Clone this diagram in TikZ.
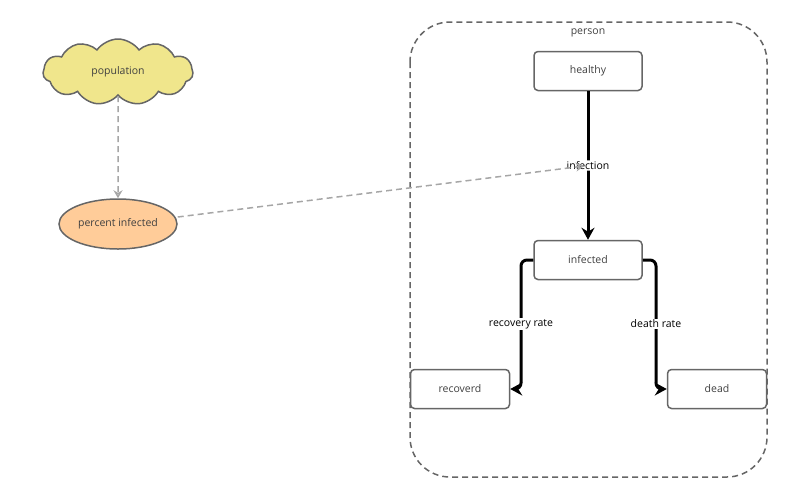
\documentclass[tikz,border=0pt]{standalone}
\usepackage{fontspec}
\setmainfont{Open Sans}
\usepackage{tikz}
\usetikzlibrary{arrows.meta, shapes.symbols, shapes.geometric, positioning}

\definecolor{edgegray}{HTML}{666666}
\definecolor{khaki}{HTML}{F0E68C}
\definecolor{peach}{HTML}{FFCC99}

\begin{document}
\begin{tikzpicture}[x=1pt,y=-1pt,font=\fontsize{10.5}{12}\selectfont,
		state/.style={draw=edgegray,line width=1.5pt,rounded corners=4pt,fill=white,minimum width=108pt,minimum height=39pt,text=black!75},
		flow/.style={line width=3pt,-{Stealth[length=12pt,width=13pt,inset=4pt]},rounded corners=6pt},
		link/.style={draw=gray!70,line width=1.5pt,dash pattern=on 6pt off 4pt,-{Stealth[length=8pt,width=9pt,open]}}]
		\useasboundingbox (0,0) rectangle (800,499);
		
		\draw[edgegray,line width=1.5pt,dash pattern=on 6pt off 4pt,rounded corners=40pt] (410,22) rectangle (767,477);
		\node[text=black!75] (person) at (588,33) {person};
		
		\node[cloud,cloud puffs=11,cloud puff arc=110,aspect=2.1,draw=edgegray,line width=1.5pt,fill=khaki,minimum width=150pt,minimum height=66pt,inner sep=0pt,text=black!75] (population) at (118,72) {population};
		\node[ellipse,draw=edgegray,line width=1.5pt,fill=peach,minimum width=118pt,minimum height=50pt,inner sep=0pt,text=black!75] (pinf) at (118,224) {percent infected};
		
		\node[state] (healthy) at (588,71) {healthy};
		\node[state] (infected) at (588,260) {infected};
		\node[state,minimum width=99pt] (recoverd) at (460,389) {recoverd};
		\node[state,minimum width=99pt] (dead) at (717,389) {dead};
		
		\draw[flow] (healthy) -- node[fill=white,inner sep=1pt] (infection) {infection} (infected);
		\draw[flow] (infected.west) -| (521,389) -- (recoverd.east);
		\draw[flow] (infected.east) -| (656,389) -- (dead.west);
		\node[fill=white,inner sep=1pt] at (521,324) {recovery rate};
		\node[fill=white,inner sep=1pt] at (656,324) {death rate};
		
		\coordinate (tip) at (584,166);
		\draw[link] (population) -- (pinf);
		\draw[link] (pinf.east) ++(0,-7) -- (tip);
	\end{tikzpicture}
\end{document}
